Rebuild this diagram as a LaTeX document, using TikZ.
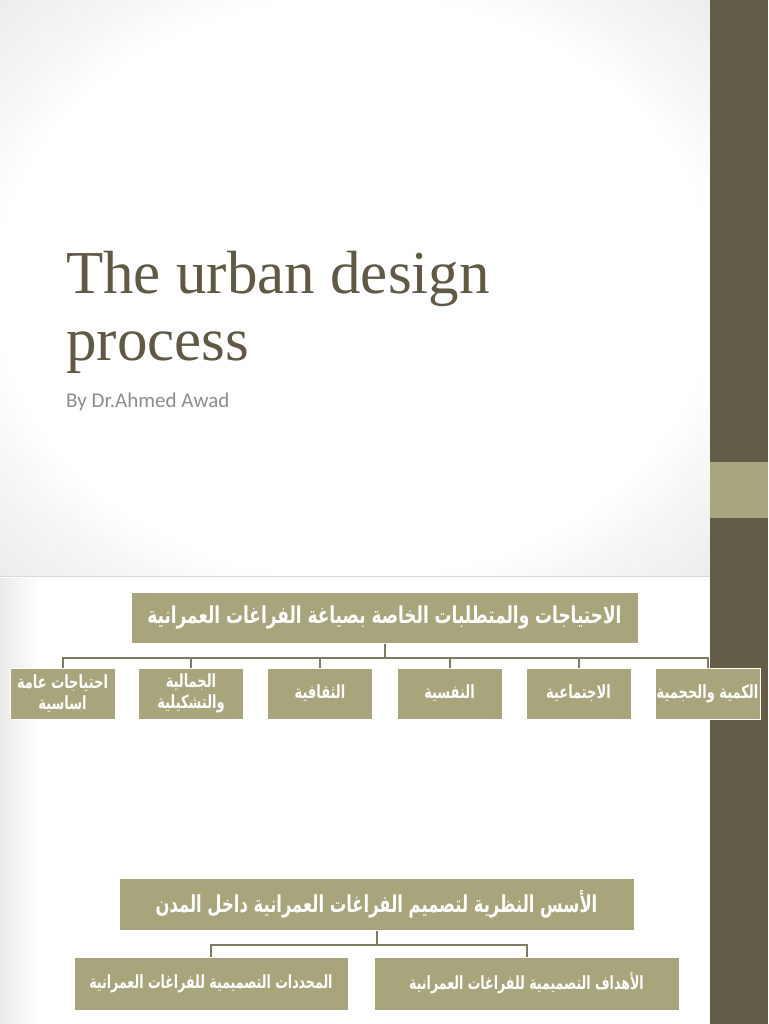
\documentclass[tikz,border=0pt]{standalone}
\usepackage{fontspec}
\usepackage{graphicx}
\setmainfont{Liberation Serif}
\newfontfamily\subfont{Carlito}
\newfontfamily\arabicfont[Script=Arabic]{DejaVu Sans}
\TeXXeTstate=1
\newcommand{\arln}[2][0.93]{\scalebox{#1}[1.3]{\beginR #2\endR}}
\definecolor{bardark}{HTML}{635C47}
\definecolor{accent}{HTML}{A9A57E}
\definecolor{boxfill}{HTML}{A8A47C}
\definecolor{titlecol}{HTML}{5F5945}
\definecolor{subcol}{HTML}{8C8C8C}
\definecolor{conncol}{HTML}{7F7A62}
\definecolor{sepcol}{HTML}{D8D8D8}
\pgfdeclareradialshading{vign}{\pgfpoint{0bp}{0bp}}{color(0bp)=(white); color(25bp)=(white); color(30bp)=(black!4); color(38bp)=(black!9); color(50bp)=(black!9)}
\tikzset{
  box/.style={fill=boxfill, draw=white, line width=1pt, inner sep=0pt, text=white, align=center,
    font=\arabicfont\bfseries\fontsize{14}{21}\selectfont},
  kid/.style={box, minimum width=105pt, minimum height=51pt},
  conn/.style={draw=conncol, line width=2pt},
}
\begin{document}
\begin{tikzpicture}[x=1pt,y=-1pt]
\useasboundingbox (0,0) rectangle (768,1024);
\fill[white] (0,0) rectangle (768,1024);
\shade[shading=vign] (0,0) rectangle (710,576);
\shade[left color=black!8, right color=white] (0,578) rectangle (40,1024);
\draw[sepcol, line width=1pt] (0,576.5) -- (710,576.5);
\fill[bardark] (710,0) rectangle (768,1024);
\fill[accent] (710,462) rectangle (768,518);
% title
\node[anchor=base west, inner sep=0pt, text=titlecol, font=\fontsize{61}{68}\selectfont] (t1) at (66,293) {The urban design};
\node[anchor=base west, inner sep=0pt, text=titlecol, font=\fontsize{61}{68}\selectfont] (t2) at (66,360) {process};
\node[anchor=base west, inner sep=0pt, text=subcol, font=\subfont\fontsize{21}{24}\selectfont] (sub) at (66,407) {By Dr.Ahmed Awad};
% first chart
\node[box, minimum width=507pt, minimum height=51pt, font=\arabicfont\bfseries\fontsize{18}{22}\selectfont] (top) at (384.5,617.5)
  {\arln[0.94]{الاحتياجات والمتطلبات الخاصة بصياغة الفراغات العمرانية}};
\node[kid] (c1) at (62.5,693.5) {\arln{احتياجات عامة}\\\arln{اساسية}};
\node[kid] (c2) at (191,693.5) {\arln{الجمالية}\\\arln{والتشكيلية}};
\node[kid] (c3) at (320,693.5) {\arln{الثقافية}};
\node[kid] (c4) at (449.5,693.5) {\arln{النفسية}};
\node[kid] (c5) at (578.5,693.5) {\arln{الاجتماعية}};
\node[kid] (c6) at (707.5,693.5) {\arln{الكمية والحجمية}};
\foreach \c in {c1,c2,c3,c4,c5,c6}{
  \draw[conn] (top.south) -- ++(0,14) -| (\c.north);
}
% second chart
\node[box, minimum width=515pt, minimum height=52pt, font=\arabicfont\bfseries\fontsize{18}{22}\selectfont] (btop) at (376.5,904)
  {\arln[0.91]{الأسس النظرية لتصميم الفراغات العمرانية داخل المدن}};
\node[box, minimum width=274pt, minimum height=53pt] (b1) at (211,983.5) {\arln[0.9]{المحددات التصميمية للفراغات العمرانية}};
\node[box, minimum width=305pt, minimum height=53pt] (b2) at (526.5,983.5) {\arln[0.9]{الأهداف التصميمية للفراغات العمرانية}};
\foreach \c in {b1,b2}{
  \draw[conn] (btop.south) -- ++(0,14) -| (\c.north);
}
\end{tikzpicture}
\end{document}
